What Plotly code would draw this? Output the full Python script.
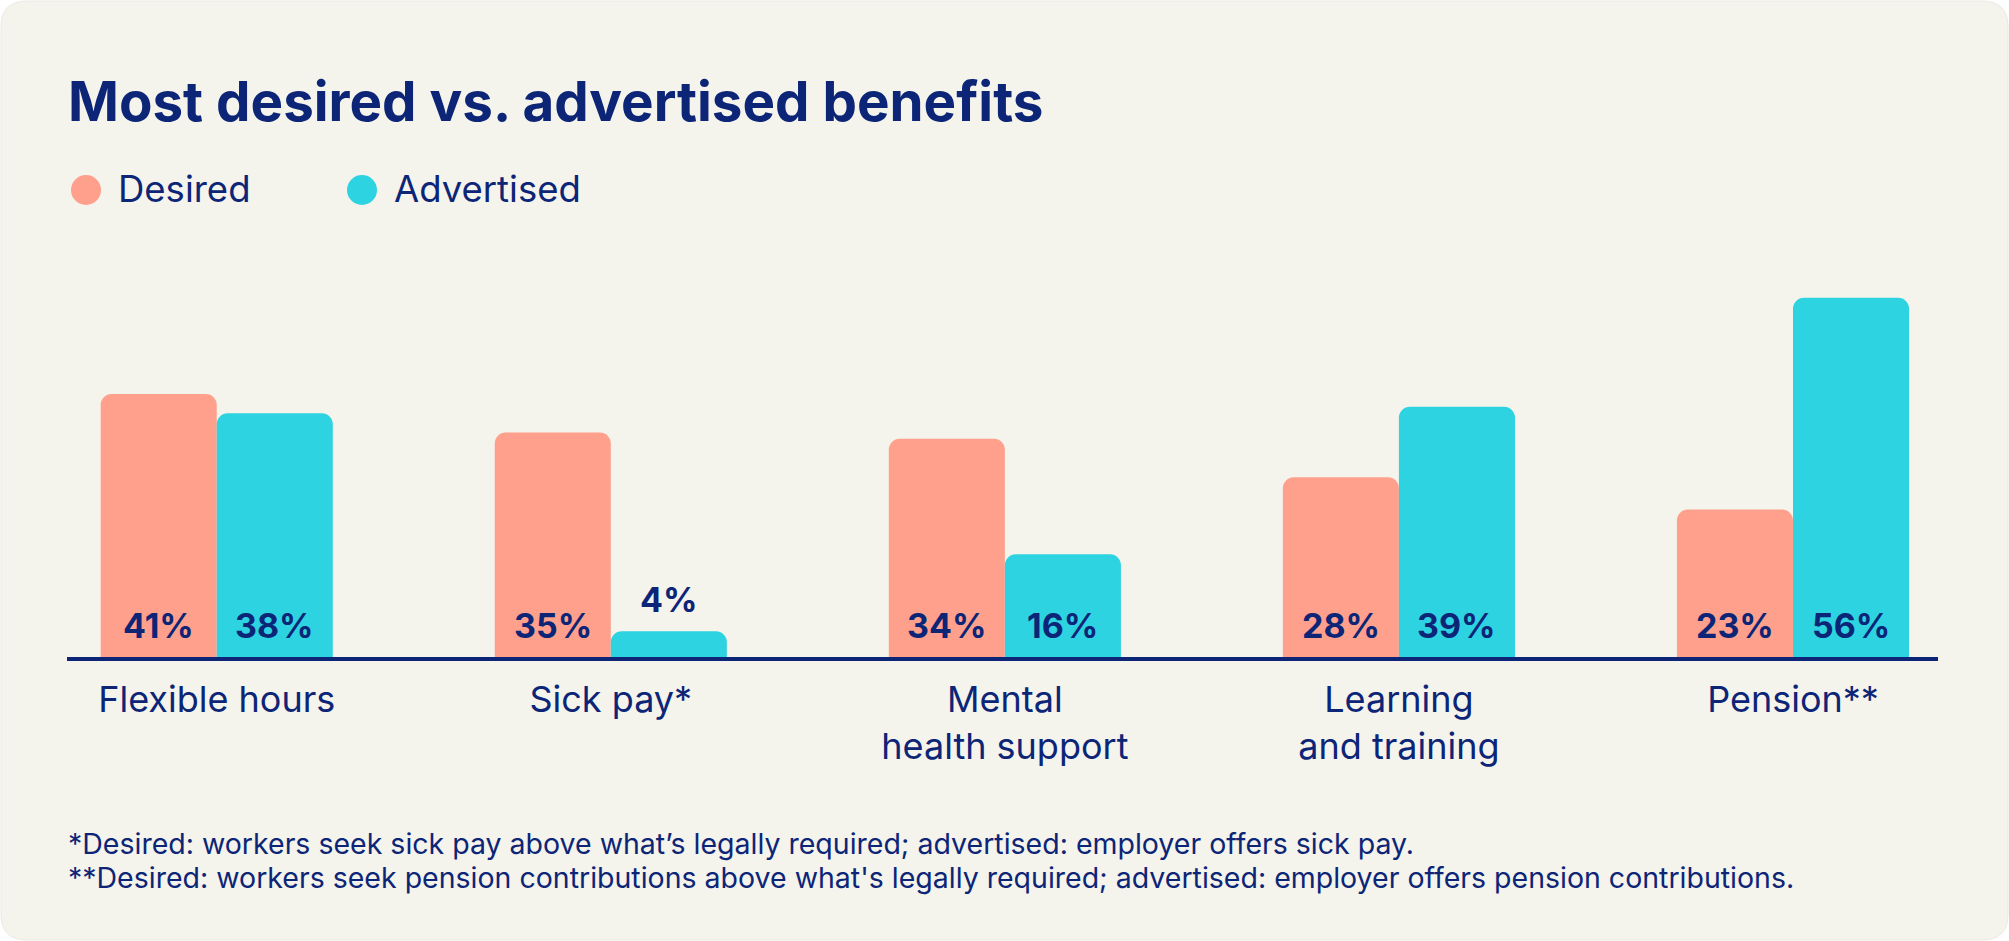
import plotly.graph_objects as go

# values
categories = ["Flexible hours", "Sick pay*", "Mental<br>health support",
              "Learning<br>and training", "Pension**"]
desired = [41, 35, 34, 28, 23]
advertised = [38, 4, 16, 39, 56]
series_names = ["Desired", "Advertised"]
title_text = "Most desired vs. advertised benefits"
footnotes = [
    "*Desired: workers seek sick pay above what’s legally required; advertised: employer offers sick pay.",
    "**Desired: workers seek pension contributions above what's legally required; advertised: employer offers pension contributions.",
]

NAVY = "#0C2577"
CARD = "#F4F3EC"
COLORS = ["#FFA08C", "#2DD3E0"]
FONT = "Inter"

W, H = 2009, 941
L, R, T, B = 67, 1938, 272, 657  # plot area in px
BARGAP = 0.411


def xp(px):
    return (px - L) / (R - L)


def yp(py):
    return (B - py) / (B - T)


def rounded_rect(x0, y0, x1, y1, r):
    # path in paper coords, corners given in px
    pts = [
        f"M {xp(x0 + r)} {yp(y0)}",
        f"L {xp(x1 - r)} {yp(y0)}",
        f"Q {xp(x1)} {yp(y0)} {xp(x1)} {yp(y0 + r)}",
        f"L {xp(x1)} {yp(y1 - r)}",
        f"Q {xp(x1)} {yp(y1)} {xp(x1 - r)} {yp(y1)}",
        f"L {xp(x0 + r)} {yp(y1)}",
        f"Q {xp(x0)} {yp(y1)} {xp(x0)} {yp(y1 - r)}",
        f"L {xp(x0)} {yp(y0 + r)}",
        f"Q {xp(x0)} {yp(y0)} {xp(x0 + r)} {yp(y0)}",
        "Z",
    ]
    return " ".join(pts)


fig = go.Figure()
x_idx = list(range(len(categories)))
for name, vals, col in zip(series_names, [desired, advertised], COLORS):
    fig.add_trace(
        go.Bar(
            x=x_idx,
            y=vals,
            name=name,
            marker=dict(color=col, line=dict(width=0), cornerradius=11),
            showlegend=False,
            hoverinfo="skip",
        )
    )

shapes = [
    dict(type="path", xref="paper", yref="paper", layer="below",
         path=rounded_rect(1, 1, W - 1, H - 1, 26),
         fillcolor=CARD, line=dict(color="#EAE9E1", width=1)),
]
annotations = [
    dict(text=title_text, x=xp(66), y=yp(101), xref="paper", yref="paper",
         xanchor="left", yanchor="middle", showarrow=False,
         font=dict(family=FONT, size=54.7, color=NAVY, weight=700)),
]

# value labels: at the bar base, or above the bar when it is too short
half = (1 - BARGAP) / 4
for k, vals in enumerate([desired, advertised]):
    off = -half if k == 0 else half
    for i, v in enumerate(vals):
        annotations.append(dict(
            text=f"{v}%", x=i + off, y=0 if v >= 10 else v, xref="x", yref="y",
            xanchor="center", yanchor="middle", yshift=32, showarrow=False,
            font=dict(family=FONT, size=34, color=NAVY, weight=700)))

# legend drawn by hand so the dots can be large circles
legend_x = [86, 362]
for name, col, cx in zip(series_names, COLORS, legend_x):
    shapes.append(dict(type="circle", xref="paper", yref="paper",
                       x0=xp(cx - 15), x1=xp(cx + 15), y0=yp(190 - 15), y1=yp(190 + 15),
                       fillcolor=col, line=dict(width=0)))
    annotations.append(dict(text=name, x=xp(cx + 30), y=yp(189), xref="paper", yref="paper",
                            xanchor="left", yanchor="middle", showarrow=False,
                            font=dict(family=FONT, size=36.5, color=NAVY)))

for i, line in enumerate(footnotes):
    annotations.append(dict(text=line, x=xp(66), y=yp(843 + i * 34), xref="paper", yref="paper",
                            xanchor="left", yanchor="middle", showarrow=False,
                            font=dict(family=FONT, size=28.5, color=NAVY)))

fig.update_layout(
    width=W,
    height=H,
    paper_bgcolor="#FFFFFF",
    plot_bgcolor="rgba(0,0,0,0)",
    margin=dict(l=L, r=W - R, t=T, b=H - B, pad=0),
    barmode="group",
    bargap=BARGAP,
    bargroupgap=0,
    shapes=shapes,
    annotations=annotations,
    xaxis=dict(
        range=[-0.38, 4.368],
        tickvals=x_idx,
        ticktext=categories,
        ticks="",
        ticklabelstandoff=8,
        tickfont=dict(family=FONT, size=36, color=NAVY),
        showgrid=False,
        zeroline=False,
        showline=True,
        linecolor=NAVY,
        linewidth=4,
        fixedrange=True,
    ),
    yaxis=dict(
        range=[0, 60],
        visible=False,
        showgrid=False,
        zeroline=False,
        fixedrange=True,
    ),
)

fig.write_html("out.html", config={"displayModeBar": False},
               post_script="document.body.style.margin='0';")
